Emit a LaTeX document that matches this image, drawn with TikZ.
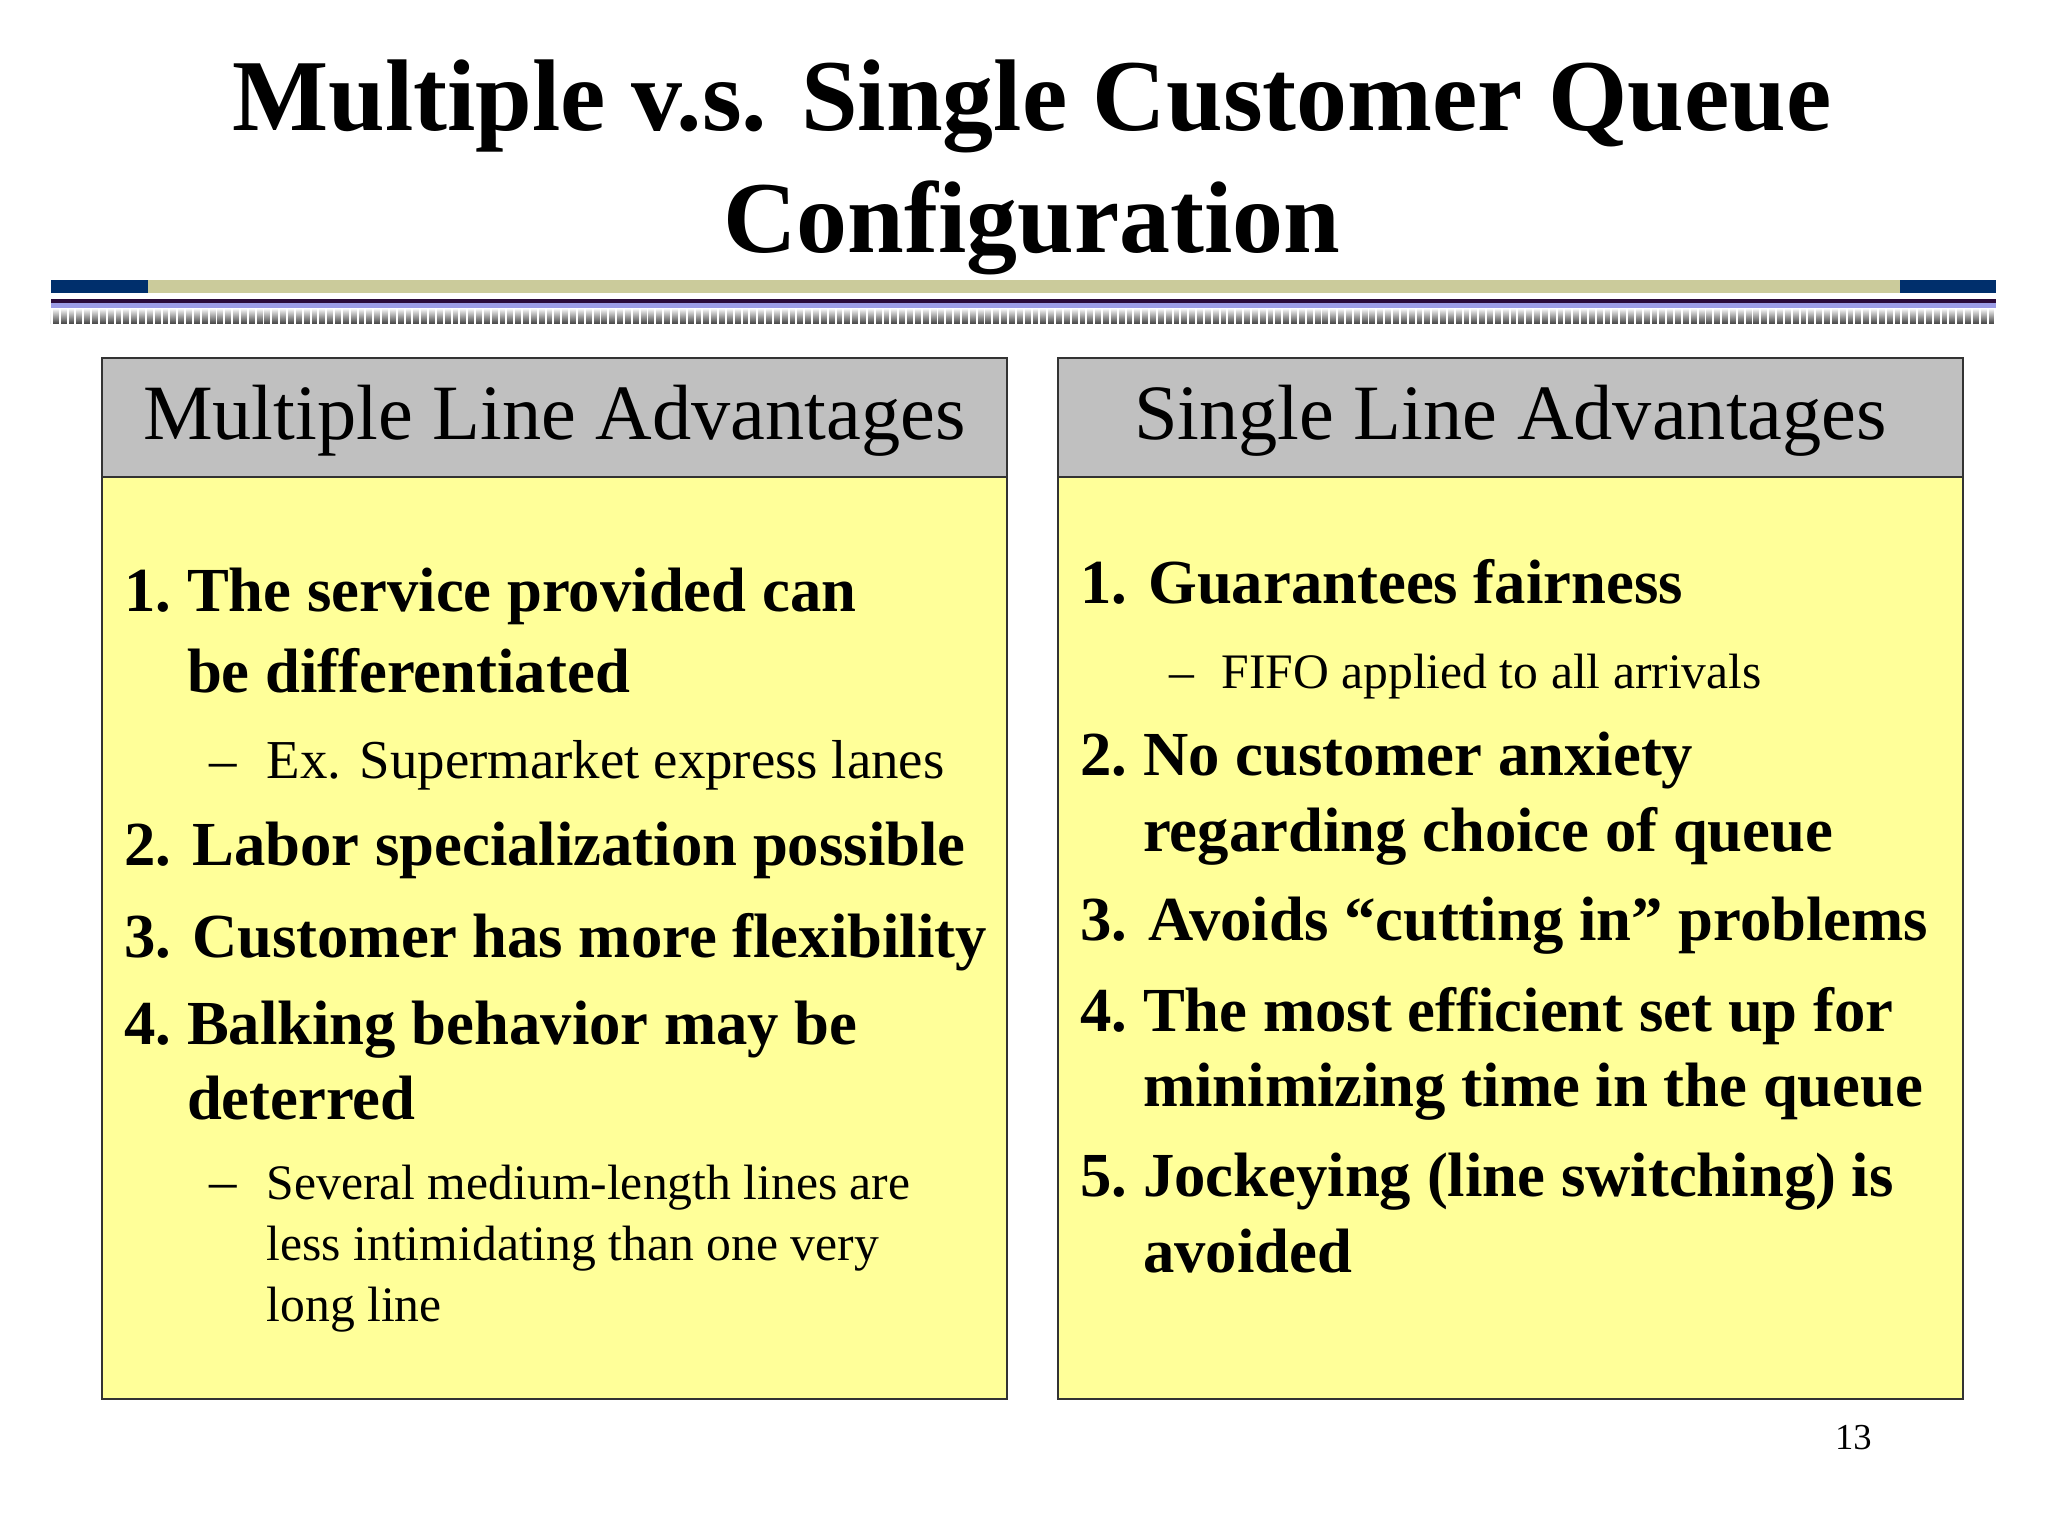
\documentclass[tikz,border=0pt]{standalone}
\usepackage{fontspec}
\setmainfont{Liberation Serif}
\definecolor{navy}{HTML}{002F6C}
\definecolor{khaki}{HTML}{CBCB9B}
\definecolor{hdr}{HTML}{C0C0C0}
\definecolor{body}{HTML}{FFFF99}
\definecolor{lav}{HTML}{9C9CE6}
\definecolor{dpurp}{HTML}{2A0A3A}
\begin{document}
\begin{tikzpicture}[x=1pt,y=-1pt,
  ttl/.style={font=\fontsize{78}{90}\selectfont\bfseries},
  hd/.style={font=\fontsize{60}{70}\selectfont},
  it/.style={anchor=base west,inner sep=0,font=\fontsize{48}{56}\selectfont\bfseries},
  sb/.style={anchor=base west,inner sep=0,font=\fontsize{42}{48}\selectfont},
  panel/.style={draw=black!80,line width=1.2pt}]
\useasboundingbox (0,0) rectangle (1568,1176);
\node[ttl,anchor=base] (t1) at (790,100) {Multiple v.s. Single Customer Queue};
\node[ttl,anchor=base] (t2) at (790,193) {Configuration};
% bar
\fill[navy] (39,214) rectangle (113,224);
\fill[khaki] (113,214) rectangle (1455,224);
\fill[navy] (1455,214) rectangle (1528,224);
\fill[dpurp] (39,229) rectangle (1528,232);
\fill[lav] (39,232) rectangle (1528,236);
\shade[top color=white,bottom color=black!75] (39,236) rectangle (1528,248);
\foreach \i in {0,...,248} \fill[white] (39+\i*6,236) rectangle (40.5+\i*6,248);
% panels
\foreach \x/\n in {78/L,810/R}{
  \fill[hdr] (\x,274) rectangle (\x+693,365);
  \fill[body] (\x,365) rectangle (\x+693,1071);
  \draw[panel] (\x,274) rectangle (\x+693,1071);
  \draw[panel] (\x,365) -- (\x+693,365);
}
\node[hd] (hl) at (424.5,322) {Multiple Line Advantages};
\node[hd] (hr) at (1156.5,322) {Single Line Advantages};
% left items
\node[it] (l1n) at (95,468) {1.};
\node[it] (l1a) at (143,468) {The service provided can};
\node[it] (l1b) at (143,530) {be differentiated};
\node[sb] (l1d) at (160,596) {–};
\node[sb] (l1s) at (204,596) {Ex. Supermarket express lanes};
\node[it] (l2) at (95,663) {2. Labor specialization possible};
\node[it] (l3) at (95,733) {3. Customer has more flexibility};
\node[it] (l4n) at (95,800) {4.};
\node[it] (l4a) at (143,800) {Balking behavior may be};
\node[it] (l4b) at (143,857) {deterred};
\node[sb] (l4d) at (160,918) {–};
\node[sb,font=\fontsize{38}{44}\selectfont] (l4s1) at (204,918) {Several medium-length lines are};
\node[sb,font=\fontsize{38}{44}\selectfont] (l4s2) at (204,965) {less intimidating than one very};
\node[sb,font=\fontsize{38}{44}\selectfont] (l4s3) at (204,1012) {long line};
% right items
\node[it] (r1) at (827,462) {1. Guarantees fairness};
\node[sb,font=\fontsize{38}{44}\selectfont] (r1d) at (895,527) {–};
\node[sb,font=\fontsize{38}{44}\selectfont] (r1s) at (935,527) {FIFO applied to all arrivals};
\node[it] (r2n) at (827,594) {2.};
\node[it] (r2a) at (875,594) {No customer anxiety};
\node[it] (r2b) at (875,652) {regarding choice of queue};
\node[it] (r3) at (827,720) {3. Avoids “cutting in” problems};
\node[it] (r4n) at (827,790) {4.};
\node[it] (r4a) at (875,790) {The most efficient set up for};
\node[it] (r4b) at (875,847) {minimizing time in the queue};
\node[it] (r5n) at (827,916) {5.};
\node[it] (r5a) at (875,916) {Jockeying (line switching) is};
\node[it] (r5b) at (875,974) {avoided};
\node[anchor=base,font=\fontsize{28}{32}\selectfont] (pg) at (1419,1110) {13};
\end{tikzpicture}
\end{document}
